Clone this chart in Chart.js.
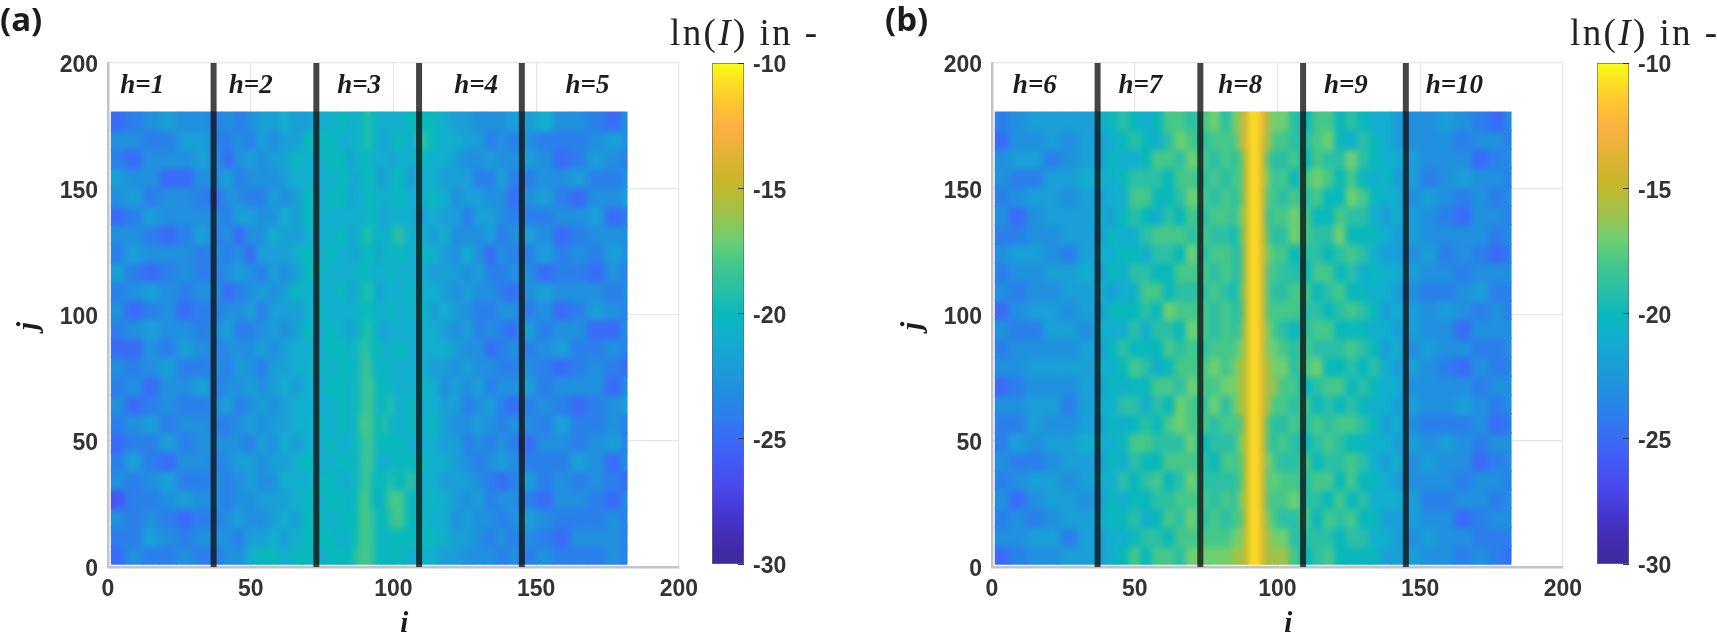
<!DOCTYPE html>
<html>
<head>
<meta charset="utf-8">
<script src="https://cdn.jsdelivr.net/npm/chart.js@4"></script>
<style>
  html, body { margin: 0; background: #fff; }
  body { position: relative; width: 1717px; height: 642px; overflow: hidden; }
  canvas { position: absolute; top: 0; }
  .panel-tag { position: absolute; top: -4px; font: bold 33px "Open Sans", sans-serif; color: #1c1c1c; }
  .bar-title { position: absolute; top: 11px; font: 37px "Liberation Serif", serif; color: #222; white-space: pre; letter-spacing: 2.4px; }
</style>
</head>
<body>
<canvas id="chartA" width="707" height="642" style="left:0"></canvas>
<canvas id="barA" width="130" height="642" style="left:700px"></canvas>
<canvas id="chartB" width="707" height="642" style="left:884px"></canvas>
<canvas id="barB" width="120" height="642" style="left:1585px"></canvas>
<div class="panel-tag" style="left:0">(a)</div>
<div class="panel-tag" style="left:885px">(b)</div>
<div class="bar-title" style="left:670px">ln(<i>I</i>) in -</div>
<div class="bar-title" style="left:1570px">ln(<i>I</i>) in -</div>
<script>
const axisTicks = [0, 50, 100, 150, 200];
const colorTicks = [-30, -25, -20, -15, -10];
const dividers = [37, 73, 109, 145];
const labelsA = ["h=1", "h=2", "h=3", "h=4", "h=5"];
const labelsB = ["h=6", "h=7", "h=8", "h=9", "h=10"];
const labelXA = [12, 50, 88, 129, 168];
const labelXB = [15, 52, 87, 124, 162];
const labelY = 191;

// colorbar
const cmapValues = [-30, -29, -28, -27, -26, -25, -24, -23, -22, -21, -20, -19, -18, -17, -16, -15, -14.5, -13, -12.5, -11.5, -10];
const cmapColors = ["#3f2a9a", "#432cb0", "#4636d0", "#4848ea", "#4458f5", "#3a6cf8", "#2b80ec", "#2190df", "#1a9fd8", "#12aece", "#08b8bb", "#2bbfa5", "#45c789", "#6fcf70", "#9fc24a", "#c0b92e", "#cdb62b", "#f3b03c", "#fbb23f", "#fcc82e", "#f9fb15"];

// heat cells: left edge of every column, and the centre of every row (top to bottom)
const colEdges = [-5, 6, 12, 18, 24, 30, 36, 40, 44, 48, 52, 56, 60, 64, 68, 72, 76, 80, 84, 86, 88, 90, 92, 94, 96, 98, 100, 104, 108, 112, 116, 120, 124, 128, 132, 136, 140, 144, 150, 156, 162, 168, 174, 180, 187];
const rowCenters = [177, 169.5, 162, 154.5, 147, 139.5, 132, 124.5, 117, 109.5, 102, 94.5, 87, 79.5, 72, 64.5, 57, 49.5, 42, 34.5, 27, 19.5, 12, 4.5];

const gridA = [
  [-25,-24,-23,-22,-23,-23,-24,-23,-24,-23,-22,-22,-21,-22,-22,-21,-21,-20,-21,-21,-20,-19,-20,-21,-21,-21,-21,-20,-20,-20,-21,-22,-22,-23,-23,-23,-22,-22,-21,-23,-23,-24,-25,-23],
  [-23,-23,-24,-24,-22,-22,-24,-24,-23,-24,-22,-23,-22,-22,-20,-20,-20,-21,-21,-21,-20,-19,-20,-21,-22,-21,-20,-21,-19,-20,-21,-21,-22,-22,-24,-23,-24,-23,-24,-24,-24,-23,-22,-23],
  [-24,-25,-23,-23,-23,-22,-23,-25,-23,-22,-23,-22,-22,-20,-21,-21,-20,-20,-22,-21,-20,-20,-21,-21,-21,-22,-21,-21,-20,-21,-21,-22,-23,-23,-22,-23,-23,-22,-23,-25,-24,-22,-23,-24],
  [-22,-23,-23,-25,-25,-23,-23,-22,-24,-23,-23,-23,-22,-21,-21,-21,-21,-20,-21,-22,-20,-20,-20,-22,-22,-21,-20,-22,-21,-21,-22,-22,-22,-24,-24,-22,-24,-24,-23,-23,-22,-24,-24,-23],
  [-23,-22,-24,-23,-23,-24,-25,-23,-23,-24,-24,-22,-23,-22,-20,-21,-20,-20,-22,-21,-21,-20,-20,-21,-21,-21,-20,-21,-21,-20,-21,-23,-22,-22,-23,-23,-25,-23,-22,-24,-25,-23,-23,-22],
  [-25,-24,-22,-23,-23,-23,-23,-24,-22,-22,-23,-23,-21,-22,-20,-21,-21,-21,-21,-21,-21,-20,-20,-21,-22,-21,-21,-21,-22,-21,-22,-22,-24,-22,-22,-23,-24,-24,-24,-23,-23,-22,-25,-24],
  [-23,-23,-24,-25,-24,-22,-24,-23,-25,-23,-23,-21,-22,-22,-21,-21,-21,-20,-22,-21,-20,-19,-20,-21,-21,-20,-19,-21,-21,-22,-21,-23,-23,-23,-22,-24,-23,-22,-23,-25,-24,-23,-23,-23],
  [-24,-22,-23,-23,-23,-24,-23,-24,-23,-25,-22,-22,-22,-21,-20,-21,-20,-21,-21,-22,-20,-20,-20,-22,-20,-21,-20,-21,-20,-21,-22,-23,-21,-23,-25,-23,-24,-24,-22,-24,-23,-24,-22,-23],
  [-22,-24,-25,-24,-23,-24,-24,-23,-22,-23,-24,-22,-23,-22,-20,-20,-21,-21,-21,-21,-20,-20,-21,-21,-21,-20,-21,-21,-21,-22,-22,-22,-23,-22,-24,-24,-23,-23,-25,-24,-24,-25,-23,-24],
  [-24,-23,-22,-23,-24,-23,-23,-25,-24,-23,-22,-23,-22,-20,-21,-21,-21,-20,-22,-21,-20,-19,-20,-22,-21,-21,-21,-20,-21,-21,-22,-23,-22,-23,-23,-24,-25,-23,-22,-23,-23,-23,-24,-23],
  [-23,-25,-24,-23,-25,-24,-24,-23,-23,-22,-24,-22,-22,-22,-21,-20,-21,-21,-21,-21,-20,-20,-20,-21,-21,-20,-21,-21,-20,-22,-21,-22,-23,-24,-24,-23,-23,-24,-23,-25,-24,-22,-23,-24],
  [-24,-23,-22,-23,-23,-24,-23,-22,-24,-24,-23,-22,-23,-22,-20,-21,-20,-21,-22,-21,-20,-19,-20,-21,-22,-21,-21,-21,-21,-21,-22,-23,-22,-24,-23,-24,-25,-22,-24,-23,-23,-25,-25,-23],
  [-25,-25,-23,-24,-22,-23,-24,-23,-23,-23,-22,-23,-22,-21,-21,-21,-20,-20,-21,-20,-19,-19,-20,-20,-21,-21,-20,-21,-21,-21,-21,-22,-23,-23,-25,-24,-23,-24,-23,-22,-24,-24,-23,-24],
  [-23,-24,-23,-22,-24,-24,-23,-24,-22,-23,-24,-22,-22,-21,-21,-20,-21,-20,-20,-21,-19,-18,-20,-21,-20,-21,-21,-21,-21,-22,-22,-23,-22,-23,-23,-24,-24,-23,-24,-25,-24,-23,-24,-25],
  [-24,-23,-25,-23,-23,-22,-24,-23,-23,-22,-23,-22,-21,-22,-21,-21,-20,-20,-21,-20,-19,-18,-19,-20,-20,-20,-21,-21,-20,-21,-23,-22,-23,-22,-24,-23,-23,-22,-24,-23,-23,-23,-25,-23],
  [-23,-25,-24,-23,-24,-24,-23,-22,-24,-23,-22,-23,-22,-21,-21,-21,-21,-20,-21,-20,-19,-18,-19,-21,-20,-19,-21,-20,-21,-21,-22,-22,-24,-23,-22,-24,-25,-24,-23,-24,-25,-24,-23,-22],
  [-24,-23,-22,-24,-23,-23,-24,-24,-23,-22,-23,-22,-22,-21,-21,-20,-21,-20,-21,-20,-18,-18,-19,-20,-19,-20,-21,-20,-21,-20,-22,-23,-23,-22,-23,-24,-23,-23,-24,-22,-24,-24,-23,-24],
  [-25,-24,-24,-22,-24,-23,-23,-23,-23,-24,-22,-23,-21,-22,-21,-21,-20,-21,-21,-20,-19,-18,-19,-20,-20,-20,-20,-21,-21,-21,-22,-22,-24,-23,-24,-23,-24,-25,-23,-23,-24,-23,-22,-24],
  [-24,-22,-24,-25,-23,-23,-24,-23,-22,-22,-23,-22,-22,-21,-20,-21,-21,-20,-20,-21,-19,-18,-19,-21,-21,-21,-20,-20,-20,-21,-21,-22,-23,-24,-23,-22,-23,-24,-24,-24,-22,-23,-25,-23],
  [-23,-24,-23,-22,-24,-24,-23,-24,-23,-22,-23,-23,-21,-21,-21,-20,-20,-21,-21,-20,-19,-18,-20,-20,-20,-19,-20,-19,-21,-21,-22,-22,-22,-23,-24,-25,-24,-22,-24,-23,-24,-23,-24,-25],
  [-26,-24,-24,-23,-22,-23,-23,-24,-23,-23,-22,-22,-22,-21,-20,-21,-20,-20,-21,-20,-18,-18,-20,-21,-20,-18,-18,-20,-21,-20,-21,-22,-23,-22,-24,-23,-23,-24,-25,-23,-23,-24,-25,-23],
  [-23,-24,-23,-24,-25,-24,-24,-23,-22,-23,-23,-22,-21,-22,-20,-20,-21,-20,-20,-20,-18,-18,-19,-20,-20,-19,-18,-20,-20,-21,-21,-23,-22,-23,-23,-24,-23,-22,-23,-24,-24,-24,-23,-24],
  [-24,-24,-22,-23,-24,-23,-23,-23,-24,-22,-22,-21,-22,-21,-20,-20,-20,-21,-20,-20,-18,-18,-19,-20,-21,-20,-20,-20,-20,-20,-21,-22,-22,-23,-24,-23,-24,-23,-24,-25,-23,-23,-23,-24],
  [-25,-23,-24,-24,-23,-24,-24,-23,-23,-21,-20,-20,-21,-20,-20,-21,-20,-20,-20,-19,-18,-18,-19,-20,-20,-20,-20,-21,-21,-21,-22,-22,-23,-23,-23,-24,-23,-24,-23,-24,-24,-24,-23,-24]
];

const gridB = [
  [-24,-23,-22,-22,-22,-22,-21,-20,-19,-20,-21,-20,-18,-18,-19,-18,-17,-19,-17,-16,-14,-11,-11,-13,-16,-17,-17,-19,-20,-18,-18,-20,-19,-20,-21,-21,-22,-23,-23,-22,-23,-24,-25,-23],
  [-25,-23,-23,-22,-23,-22,-22,-21,-20,-19,-20,-21,-19,-17,-18,-19,-18,-18,-18,-16,-14,-11,-11,-14,-16,-18,-18,-19,-19,-18,-17,-20,-21,-19,-20,-21,-22,-23,-23,-23,-24,-23,-23,-24],
  [-23,-22,-22,-24,-23,-22,-22,-20,-21,-21,-20,-18,-18,-19,-17,-18,-19,-18,-19,-18,-15,-11,-11,-14,-18,-19,-19,-18,-20,-18,-19,-19,-17,-19,-20,-21,-21,-22,-23,-23,-23,-25,-24,-23],
  [-23,-24,-24,-22,-22,-21,-21,-21,-20,-19,-19,-19,-20,-18,-18,-19,-18,-19,-18,-18,-15,-11,-11,-14,-17,-19,-18,-20,-18,-17,-18,-20,-18,-20,-21,-20,-22,-22,-24,-23,-22,-23,-23,-24],
  [-24,-23,-22,-22,-23,-22,-22,-21,-21,-18,-18,-20,-20,-19,-17,-18,-19,-18,-19,-18,-15,-11,-11,-14,-18,-18,-19,-18,-19,-18,-20,-20,-17,-18,-20,-21,-21,-23,-22,-23,-24,-23,-24,-23],
  [-23,-25,-23,-22,-22,-22,-21,-22,-20,-19,-20,-21,-19,-20,-18,-19,-18,-18,-19,-17,-15,-11,-11,-14,-19,-18,-18,-17,-18,-20,-20,-18,-19,-19,-21,-22,-21,-22,-23,-24,-25,-23,-23,-24],
  [-24,-24,-23,-23,-22,-22,-22,-20,-21,-21,-19,-18,-18,-18,-19,-18,-19,-19,-20,-18,-15,-11,-11,-14,-18,-19,-19,-17,-18,-19,-19,-17,-20,-20,-20,-21,-22,-22,-23,-23,-23,-23,-24,-23],
  [-23,-22,-22,-23,-24,-22,-21,-21,-20,-20,-21,-19,-19,-20,-17,-19,-18,-18,-19,-19,-15,-11,-11,-14,-17,-18,-18,-20,-19,-19,-20,-19,-18,-19,-21,-22,-22,-23,-22,-24,-23,-24,-25,-24],
  [-24,-23,-23,-22,-22,-21,-22,-20,-21,-19,-19,-20,-20,-18,-18,-18,-19,-18,-19,-19,-15,-11,-11,-14,-18,-18,-19,-19,-20,-18,-18,-20,-19,-21,-20,-21,-21,-22,-23,-23,-24,-23,-23,-23],
  [-23,-24,-23,-23,-22,-22,-21,-22,-21,-21,-18,-18,-20,-19,-19,-19,-18,-19,-20,-18,-15,-11,-11,-14,-18,-19,-19,-18,-18,-20,-19,-18,-20,-20,-21,-21,-22,-23,-24,-24,-23,-22,-24,-24],
  [-25,-23,-22,-22,-23,-22,-22,-20,-20,-20,-19,-20,-17,-18,-18,-18,-19,-18,-19,-19,-15,-11,-11,-14,-18,-18,-18,-18,-19,-19,-20,-19,-18,-19,-20,-22,-21,-22,-23,-22,-23,-24,-23,-24],
  [-23,-24,-24,-22,-22,-23,-21,-21,-21,-19,-21,-19,-19,-20,-17,-18,-19,-18,-19,-18,-15,-11,-11,-14,-17,-18,-19,-20,-19,-18,-18,-20,-20,-20,-21,-21,-22,-22,-23,-23,-25,-23,-23,-23],
  [-24,-23,-23,-23,-23,-22,-22,-20,-19,-20,-20,-20,-18,-19,-18,-19,-18,-18,-18,-17,-15,-11,-11,-14,-17,-17,-18,-19,-18,-19,-19,-19,-18,-19,-20,-22,-21,-23,-22,-23,-23,-24,-24,-23],
  [-23,-23,-22,-22,-22,-22,-21,-21,-20,-18,-19,-21,-20,-18,-18,-18,-17,-18,-17,-16,-15,-11,-11,-14,-16,-17,-17,-19,-18,-17,-20,-20,-19,-20,-19,-21,-22,-22,-23,-24,-25,-23,-24,-24],
  [-25,-24,-23,-23,-23,-22,-22,-20,-21,-20,-20,-18,-18,-19,-17,-18,-18,-17,-17,-16,-15,-11,-11,-14,-16,-16,-18,-18,-20,-19,-18,-18,-20,-19,-20,-21,-21,-23,-23,-23,-23,-24,-23,-23],
  [-23,-23,-22,-22,-24,-22,-21,-21,-19,-19,-21,-19,-20,-17,-18,-19,-17,-19,-17,-16,-15,-11,-11,-14,-16,-18,-18,-19,-18,-20,-19,-20,-19,-20,-21,-21,-22,-22,-23,-23,-22,-23,-24,-23],
  [-24,-24,-22,-23,-23,-22,-22,-20,-21,-20,-19,-20,-18,-17,-18,-18,-19,-18,-18,-18,-15,-11,-11,-14,-18,-19,-19,-18,-19,-18,-19,-18,-18,-19,-20,-22,-21,-23,-24,-24,-24,-23,-25,-24],
  [-24,-22,-23,-22,-22,-21,-21,-21,-20,-18,-18,-19,-19,-19,-17,-20,-19,-19,-19,-17,-15,-11,-11,-14,-18,-19,-18,-19,-20,-19,-18,-19,-20,-20,-21,-21,-22,-22,-23,-22,-23,-24,-23,-23],
  [-23,-24,-24,-23,-22,-22,-22,-20,-21,-19,-20,-20,-18,-18,-18,-19,-20,-18,-18,-18,-15,-11,-11,-14,-17,-18,-19,-19,-18,-20,-19,-19,-18,-19,-21,-22,-21,-23,-22,-23,-23,-25,-24,-23],
  [-24,-23,-22,-22,-23,-22,-21,-21,-19,-20,-19,-18,-20,-19,-17,-19,-19,-19,-19,-18,-15,-11,-11,-14,-18,-17,-18,-18,-19,-18,-18,-20,-18,-20,-20,-21,-22,-23,-23,-23,-24,-23,-23,-24],
  [-23,-25,-23,-22,-22,-23,-22,-20,-21,-20,-20,-19,-19,-18,-18,-18,-19,-18,-19,-17,-15,-11,-11,-14,-18,-18,-18,-17,-19,-19,-20,-18,-20,-19,-21,-21,-21,-22,-24,-24,-23,-23,-24,-23],
  [-24,-23,-24,-23,-22,-22,-21,-20,-20,-19,-21,-20,-18,-19,-17,-19,-18,-19,-18,-18,-15,-11,-11,-14,-17,-18,-19,-19,-18,-20,-18,-19,-18,-20,-20,-22,-22,-22,-23,-23,-25,-24,-23,-23],
  [-23,-23,-22,-22,-24,-22,-22,-21,-21,-20,-19,-19,-20,-18,-18,-18,-18,-18,-17,-17,-15,-11,-11,-14,-16,-17,-17,-19,-19,-19,-19,-20,-19,-19,-21,-21,-22,-23,-22,-23,-23,-24,-24,-24],
  [-25,-24,-23,-23,-22,-22,-22,-21,-20,-18,-20,-18,-18,-19,-17,-17,-17,-17,-16,-16,-15,-11,-11,-14,-16,-16,-16,-18,-20,-19,-18,-20,-20,-20,-20,-22,-22,-22,-23,-23,-24,-23,-24,-25]
];

function hexToRgb(hex) {
  return [1, 3, 5].map(i => parseInt(hex.slice(i, i + 2), 16));
}

function colorFor(value) {
  let k = 0;
  while (k < cmapValues.length - 2 && value > cmapValues[k + 1]) k++;
  const t = Math.min(1, Math.max(0, (value - cmapValues[k]) / (cmapValues[k + 1] - cmapValues[k])));
  const a = hexToRgb(cmapColors[k]), b = hexToRgb(cmapColors[k + 1]);
  return `rgb(${a.map((c, i) => Math.round(c + (b[i] - c) * t)).join(",")})`;
}

// Cuts the coarse cells at the edge of the measured area, then smooths them once before the divider lines go on top
const heatSmooth = {
  id: "heatSmooth",
  beforeDraw(chart) {
    chart.$smoothed = false;
  },
  beforeDatasetDraw(chart, args) {
    const { x, y } = chart.scales;
    const ctx = chart.ctx;
    const left = x.getPixelForValue(1), top = y.getPixelForValue(180.7);
    const w = x.getPixelForValue(182) - left, h = y.getPixelForValue(1) - top;
    if (args.meta.type === "bar") {
      ctx.save();
      ctx.beginPath();
      ctx.rect(left, top, w, h);
      ctx.clip();
    } else if (!chart.$smoothed) {
      chart.$smoothed = true;
      const copy = document.createElement("canvas");
      copy.width = chart.canvas.width;
      copy.height = chart.canvas.height;
      copy.getContext("2d").drawImage(chart.canvas, left, top, w, h, left, top, w, h);
      ctx.save();
      ctx.beginPath();
      ctx.rect(left, top, w, h);
      ctx.clip();
      ctx.filter = "blur(3px)";
      ctx.drawImage(copy, 0, 0);
      ctx.restore();
    }
  },
  afterDatasetDraw(chart, args) {
    if (args.meta.type === "bar") chart.ctx.restore();
  }
};

// h=... captions above the heat area
const hCaptions = {
  id: "hCaptions",
  afterDatasetsDraw(chart, args, opts) {
    const { x, y } = chart.scales;
    const ctx = chart.ctx;
    ctx.save();
    ctx.font = 'italic bold 27px "Liberation Serif"';
    ctx.fillStyle = "#1c1c1c";
    ctx.textAlign = "center";
    ctx.textBaseline = "middle";
    opts.labels.forEach((t, i) => ctx.fillText(t, x.getPixelForValue(opts.xs[i]), y.getPixelForValue(labelY)));
    ctx.restore();
  }
};

function tickFont() {
  return { family: '"Liberation Sans"', size: 23, weight: "bold" };
}

function makePanel(id, grid, labels, xs) {
  const datasets = dividers.map(d => ({
    type: "line",
    data: [{ x: d, y: 0 }, { x: d, y: 200 }],
    borderColor: "rgba(17,17,17,0.78)",
    borderWidth: 6,
    pointRadius: 0,
    order: 0
  }));
  // one dataset per row, repeating the first and last row past the edge
  const rows = [grid[0], ...grid, grid[grid.length - 1]];
  const centers = [184.5, ...rowCenters, -3];
  rows.forEach((row, r) => {
    datasets.push({
      type: "bar",
      data: row.map((v, c) => ({ y: centers[r], x: [colEdges[c], colEdges[c + 1]] })),
      backgroundColor: row.map(colorFor),
      borderWidth: 0,
      barThickness: 20,
      grouped: false,
      clip: false,
      order: 1
    });
  });
  new Chart(document.getElementById(id), {
    data: { datasets },
    plugins: [heatSmooth, hCaptions],
    options: {
      indexAxis: "y",
      responsive: false,
      animation: false,
      events: [],
      layout: { padding: { top: 63, right: 12, left: 0, bottom: 0 } },
      plugins: { legend: { display: false }, tooltip: { enabled: false }, hCaptions: { labels, xs } },
      scales: {
        x: {
          type: "linear", min: 0, max: 200,
          afterBuildTicks: s => { s.ticks = axisTicks.map(value => ({ value })); },
          afterFit: s => { s.height = 75; },
          grid: { color: "#e6e6e6", lineWidth: 1.2, tickLength: 0 },
          border: { color: "#c4c4c4", width: 2.5 },
          ticks: { font: tickFont(), color: "#333", padding: 9, maxRotation: 0 },
          title: { display: true, text: "   i", color: "#1c1c1c", padding: 0, font: { family: '"Liberation Serif"', size: 29, style: "italic", weight: "bold" } }
        },
        y: {
          type: "linear", min: 0, max: 200, offset: false,
          afterBuildTicks: s => { s.ticks = axisTicks.map(value => ({ value })); },
          afterFit: s => { s.width = 108; },
          grid: { color: "#e6e6e6", lineWidth: 1.2, tickLength: 0, offset: false },
          border: { color: "#c4c4c4", width: 2.5 },
          ticks: { font: tickFont(), color: "#333", padding: 10, labelOffset: 3 },
          title: { display: true, text: "j   ", color: "#1c1c1c", padding: { top: 12, bottom: 0 }, font: { family: '"Liberation Serif"', size: 29, style: "italic", weight: "bold" } }
        }
      }
    }
  });
}

function makeColorbar(id, left) {
  new Chart(document.getElementById(id), {
    type: "bar",
    data: {
      labels: [""],
      datasets: [{
        data: [[colorTicks[0], colorTicks[colorTicks.length - 1]]],
        backgroundColor(c) {
          const area = c.chart.chartArea;
          if (!area) return "#888";
          const g = c.chart.ctx.createLinearGradient(0, area.bottom, 0, area.top);
          cmapValues.forEach((v, i) => g.addColorStop((v + 30) / 20, cmapColors[i]));
          return g;
        },
        borderColor: "#6a6a6a",
        borderWidth: 1,
        borderSkipped: false,
        barPercentage: 1,
        categoryPercentage: 1
      }]
    },
    options: {
      responsive: false,
      animation: false,
      events: [],
      layout: { padding: { top: 63, bottom: 78, left } },
      plugins: { legend: { display: false }, tooltip: { enabled: false } },
      scales: {
        x: { display: false },
        y: {
          position: "right", min: -30, max: -10,
          afterBuildTicks: s => { s.ticks = colorTicks.map(value => ({ value })); },
          afterFit: s => { s.width = s.chart.width - left - 32; },
          grid: { drawOnChartArea: false, tickLength: -6, tickColor: "#333", z: 1 },
          border: { display: false },
          ticks: { font: tickFont(), color: "#333", padding: 15, labelOffset: 3, callback: v => String(v) }
        }
      }
    }
  });
}

makePanel("chartA", gridA, labelsA, labelXA);
makePanel("chartB", gridB, labelsB, labelXB);
makeColorbar("barA", 12);
makeColorbar("barB", 12);
</script>
</body>
</html>
